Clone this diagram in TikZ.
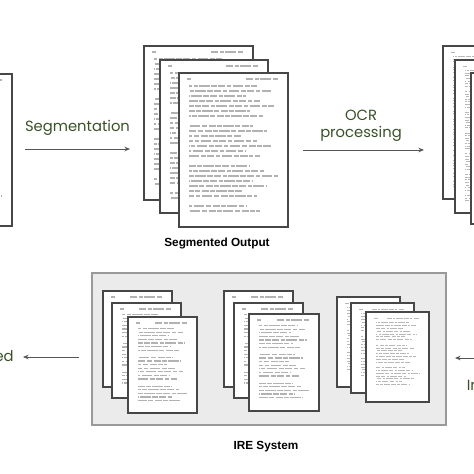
\documentclass[tikz,border=0pt]{standalone}
\usepackage{fontspec}
\setmainfont{Liberation Sans}
\newfontfamily\stepfont{Poppins}
\usetikzlibrary{arrows.meta, positioning, calc}

\definecolor{stepgreen}{HTML}{3A5128}
\definecolor{arrowgrey}{HTML}{555555}
\definecolor{panelgrey}{HTML}{EBEBEB}

\tikzset{
  % --- Trang tai lieu ----------------------------------------
  page/.style={draw=black!72, line width=0.8pt, fill=white},
  txt/.style={draw=black!30, line width=0.6pt,
    dash pattern=on 4pt off 0.9pt on 2.5pt off 0.8pt on 6pt off 0.9pt on 3pt off 0.8pt},
  ocrtxt/.style={draw=black!28, line width=0.5pt,
    dash pattern=on 2.6pt off 0.7pt on 1.5pt off 0.6pt on 3.6pt off 0.7pt},
  panel/.style={draw=black!40, line width=0.6pt, fill=panelgrey},
  % --- Nhan va mui ten ---------------------------------------
  steplbl/.style={font=\stepfont\fontsize{8.4}{9.6}\selectfont,
    text=stepgreen, inner sep=0pt, align=center},
  caption/.style={font=\bfseries\fontsize{6.7}{8}\selectfont, inner sep=0pt},
  fl/.style={-{Stealth[length=3.2pt, width=2.6pt]}, draw=arrowgrey,
    line width=0.5pt}
}

% trang: x0, y0, x1, y1, khoang dong, kieu dong
\newcommand{\docpage}[6]{%
  \draw[page] (#1,#2) rectangle (#3,#4);
  \draw[#6] ({#3-42},{#2+6}) -- ({#3-10},{#2+6});
  \draw[#6] ({#1+8},{#2+6}) -- ({#1+12},{#2+6});
  \pgfmathtruncatemacro{\nrows}{int((#4-#2-20)/#5)}
  \foreach \k in {1,...,\nrows}{
    \pgfmathsetmacro{\yy}{#2+8+\k*#5}
    \pgfmathtruncatemacro{\gapflag}{mod(\k,8)==0}
    \pgfmathsetmacro{\len}{(#3-#1-20)*(0.6+0.4*mod(\k*37,11)/10)}
    \pgfmathsetmacro{\ph}{mod(\k*2.3,13)}
    \ifnum\gapflag=0
      \draw[#6, dash phase=\ph pt] ({#1+10},\yy) -- ++(\len,0);
    \fi
  }
}

\begin{document}
\begin{tikzpicture}[x=0.02cm, y=-0.02cm]

  \useasboundingbox (0,0) rectangle (474,474);
  \clip (0,0) rectangle (474,474);

  % --- Trang goc (bi cat o canh trai) ---
  \docpage{-100}{74}{12}{226}{6}{txt}

  % --- Segmentation ---
  \coordinate (segA) at (25,149);
  \coordinate (segB) at (130,149);
  \draw[fl] (segA) -- (segB);
  \node[steplbl] (seglbl) at (77.5,128) {Segmentation};

  % --- Segmented Output ---
  \docpage{144}{46}{253}{200}{5}{txt}
  \docpage{160}{60}{268}{213}{5}{txt}
  \docpage{179}{73}{288}{227}{5}{txt}
  \node[caption] (segout) at (217,243) {Segmented Output};

  % --- OCR processing ---
  \coordinate (ocrA) at (303,150);
  \coordinate (ocrB) at (424,150);
  \draw[fl] (ocrA) -- (ocrB);
  \node[steplbl] (ocrlbl) at (361,125.5) {OCR\\processing};

  \docpage{443}{46}{552}{199}{2.6}{ocrtxt}
  \docpage{455}{60}{564}{213}{2.6}{ocrtxt}
  \docpage{471}{73}{580}{224}{2.6}{ocrtxt}

  % --- IRE System ---
  \draw[panel] (92,273) rectangle (446,425);

  \docpage{103}{291}{172}{387}{3.6}{txt}
  \docpage{112}{303}{181}{398}{3.6}{txt}
  \docpage{128}{317}{197}{413}{3.6}{txt}

  \docpage{224}{291}{293}{387}{3.6}{txt}
  \docpage{234}{303}{303}{398}{3.6}{txt}
  \docpage{249}{314}{319}{411}{3.6}{txt}

  \docpage{337}{297}{400}{387}{2.8}{ocrtxt}
  \docpage{351}{303}{414}{393}{2.8}{ocrtxt}
  \docpage{366}{312}{429}{402}{2.8}{ocrtxt}

  \node[caption] (iresys) at (266,447) {IRE System};

  % --- Luong ra, vao he thong ---
  \coordinate (outA) at (79,357);
  \coordinate (outB) at (23,357);
  \draw[fl] (outA) -- (outB);
  \node[steplbl, anchor=east] (outlbl) at (14,356) {ed};

  \coordinate (inA) at (490,358);
  \coordinate (inB) at (455,358);
  \draw[fl] (inA) -- (inB);
  \node[steplbl, anchor=west] (inlbl) at (466.5,385) {In};

\end{tikzpicture}
\end{document}
